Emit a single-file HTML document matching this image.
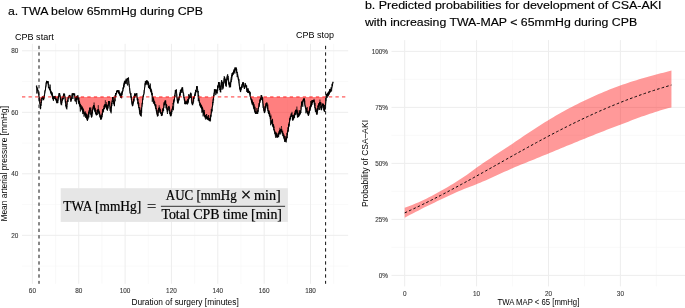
<!DOCTYPE html>
<html lang="en"><head><meta charset="utf-8"><title>TWA below 65mmHg during CPB</title>
<style>html,body{margin:0;padding:0;background:#fff}svg{display:block}.t{font-family:"Liberation Sans",Arial,Helvetica,sans-serif;fill:#000}.s{font-family:"Liberation Serif","Times New Roman",serif;fill:#000;stroke:#000;stroke-width:0.22px}.ax{font-family:"Liberation Sans",Arial,Helvetica,sans-serif;fill:#3c3c3c;font-size:6.4px;stroke:#3c3c3c;stroke-width:0.12px}.at{font-family:"Liberation Sans",Arial,Helvetica,sans-serif;fill:#000;font-size:8.3px}</style></head><body>
<svg width="685" height="308" viewBox="0 0 685 308">
<rect width="685" height="308" fill="#fff"/>
<g id="panelA">
<line x1="55.57" y1="43.8" x2="55.57" y2="283.8" stroke="#f5f5f5" stroke-width="0.6"/>
<line x1="101.92" y1="43.8" x2="101.92" y2="283.8" stroke="#f5f5f5" stroke-width="0.6"/>
<line x1="148.28" y1="43.8" x2="148.28" y2="283.8" stroke="#f5f5f5" stroke-width="0.6"/>
<line x1="194.62" y1="43.8" x2="194.62" y2="283.8" stroke="#f5f5f5" stroke-width="0.6"/>
<line x1="240.97" y1="43.8" x2="240.97" y2="283.8" stroke="#f5f5f5" stroke-width="0.6"/>
<line x1="287.32" y1="43.8" x2="287.32" y2="283.8" stroke="#f5f5f5" stroke-width="0.6"/>
<line x1="333.67" y1="43.8" x2="333.67" y2="283.8" stroke="#f5f5f5" stroke-width="0.6"/>
<line x1="22.0" y1="266.05" x2="348.2" y2="266.05" stroke="#f5f5f5" stroke-width="0.6"/>
<line x1="22.0" y1="204.55" x2="348.2" y2="204.55" stroke="#f5f5f5" stroke-width="0.6"/>
<line x1="22.0" y1="143.05" x2="348.2" y2="143.05" stroke="#f5f5f5" stroke-width="0.6"/>
<line x1="22.0" y1="81.55" x2="348.2" y2="81.55" stroke="#f5f5f5" stroke-width="0.6"/>
<line x1="32.40" y1="43.8" x2="32.40" y2="283.8" stroke="#ededed" stroke-width="1"/>
<line x1="78.75" y1="43.8" x2="78.75" y2="283.8" stroke="#ededed" stroke-width="1"/>
<line x1="125.10" y1="43.8" x2="125.10" y2="283.8" stroke="#ededed" stroke-width="1"/>
<line x1="171.45" y1="43.8" x2="171.45" y2="283.8" stroke="#ededed" stroke-width="1"/>
<line x1="217.80" y1="43.8" x2="217.80" y2="283.8" stroke="#ededed" stroke-width="1"/>
<line x1="264.15" y1="43.8" x2="264.15" y2="283.8" stroke="#ededed" stroke-width="1"/>
<line x1="310.50" y1="43.8" x2="310.50" y2="283.8" stroke="#ededed" stroke-width="1"/>
<line x1="22.0" y1="235.30" x2="348.2" y2="235.30" stroke="#ededed" stroke-width="1"/>
<line x1="22.0" y1="173.80" x2="348.2" y2="173.80" stroke="#ededed" stroke-width="1"/>
<line x1="22.0" y1="112.30" x2="348.2" y2="112.30" stroke="#ededed" stroke-width="1"/>
<line x1="22.0" y1="50.80" x2="348.2" y2="50.80" stroke="#ededed" stroke-width="1"/>
<clipPath id="below"><rect x="39.0" y="96.92" width="286.60" height="60"/></clipPath>
<path d="M36.40,85.80 L36.90,87.48 L37.40,89.16 L37.90,91.02 L38.40,93.62 L38.90,96.45 L39.40,100.23 L39.90,104.00 L40.40,108.60 L40.90,105.25 L41.40,101.90 L41.90,99.54 L42.40,97.17 L42.90,98.50 L43.40,99.92 L43.90,98.00 L44.40,96.08 L44.90,93.05 L45.40,89.73 L45.90,86.36 L46.40,82.96 L46.90,81.90 L47.40,82.40 L47.90,82.90 L48.40,84.24 L48.90,86.84 L49.40,88.91 L49.90,90.19 L50.40,91.48 L50.90,92.71 L51.40,93.78 L51.90,94.85 L52.40,96.12 L52.90,98.21 L53.40,100.30 L53.90,99.10 L54.40,97.90 L54.90,96.70 L55.40,98.30 L55.90,99.89 L56.40,101.49 L56.90,103.08 L57.40,101.93 L57.90,100.10 L58.40,98.27 L58.90,96.43 L59.40,94.44 L59.90,95.83 L60.40,99.55 L60.90,103.27 L61.40,104.61 L61.90,102.37 L62.40,100.14 L62.90,98.15 L63.40,96.53 L63.90,94.90 L64.40,94.35 L64.90,98.10 L65.40,101.85 L65.90,105.60 L66.40,107.99 L66.90,104.92 L67.40,101.86 L67.90,98.80 L68.40,97.83 L68.90,96.86 L69.40,95.89 L69.90,97.35 L70.40,99.42 L70.90,101.49 L71.40,99.95 L71.90,97.51 L72.40,95.07 L72.90,94.17 L73.40,94.29 L73.90,94.41 L74.40,94.53 L74.90,96.06 L75.40,99.71 L75.90,101.14 L76.40,99.24 L76.90,97.34 L77.40,97.04 L77.90,99.13 L78.40,101.23 L78.90,103.15 L79.40,104.39 L79.90,105.62 L80.40,106.86 L80.90,108.10 L81.40,108.69 L81.90,109.29 L82.40,109.88 L82.90,110.93 L83.40,112.10 L83.90,113.27 L84.40,113.88 L84.90,114.34 L85.40,114.81 L85.90,115.79 L86.40,117.11 L86.90,118.42 L87.40,119.74 L87.90,118.07 L88.40,115.65 L88.90,113.23 L89.40,110.82 L89.90,108.40 L90.40,111.14 L90.90,113.87 L91.40,116.61 L91.90,115.75 L92.40,112.50 L92.90,109.25 L93.40,106.00 L93.90,107.62 L94.40,109.24 L94.90,110.86 L95.40,112.48 L95.90,114.10 L96.40,115.08 L96.90,113.49 L97.40,111.91 L97.90,110.32 L98.40,111.33 L98.90,113.00 L99.40,114.67 L99.90,116.33 L100.40,118.00 L100.90,119.67 L101.40,118.40 L101.90,116.40 L102.40,114.40 L102.90,112.40 L103.40,110.40 L103.90,108.40 L104.40,106.81 L104.90,105.22 L105.40,105.75 L105.90,106.81 L106.40,107.88 L106.90,108.94 L107.40,110.00 L107.90,107.61 L108.40,105.22 L108.90,102.83 L109.40,102.88 L109.90,106.58 L110.40,110.28 L110.90,110.98 L111.40,107.18 L111.90,103.38 L112.40,99.58 L112.90,98.32 L113.40,100.88 L113.90,103.44 L114.40,106.00 L114.90,99.94 L115.40,94.92 L115.90,94.03 L116.40,93.14 L116.90,92.25 L117.40,91.36 L117.90,91.56 L118.40,92.49 L118.90,93.41 L119.40,94.34 L119.90,95.27 L120.40,96.20 L120.90,97.13 L121.40,96.33 L121.90,94.39 L122.40,92.44 L122.90,90.50 L123.40,88.59 L123.90,86.68 L124.40,84.76 L124.90,83.52 L125.40,82.71 L125.90,81.91 L126.40,81.10 L126.90,80.25 L127.40,79.39 L127.90,78.54 L128.40,80.25 L128.90,83.67 L129.40,87.08 L129.90,90.50 L130.40,93.92 L130.90,96.89 L131.40,99.74 L131.90,102.60 L132.40,105.46 L132.90,105.06 L133.40,102.51 L133.90,99.95 L134.40,97.71 L134.90,96.73 L135.40,95.76 L135.90,94.78 L136.40,94.57 L136.90,97.40 L137.40,100.23 L137.90,102.96 L138.40,105.26 L138.90,107.56 L139.40,109.86 L139.90,112.16 L140.40,114.46 L140.90,115.43 L141.40,111.06 L141.90,106.69 L142.40,102.59 L142.90,99.53 L143.40,96.46 L143.90,93.40 L144.40,89.73 L144.90,86.07 L145.40,84.14 L145.90,83.38 L146.40,82.62 L146.90,81.86 L147.40,81.10 L147.90,82.88 L148.40,84.66 L148.90,86.43 L149.40,87.91 L149.90,88.94 L150.40,89.97 L150.90,91.00 L151.40,92.64 L151.90,94.28 L152.40,95.92 L152.90,97.90 L153.40,100.40 L153.90,102.12 L154.40,103.64 L154.90,105.16 L155.40,106.68 L155.90,108.42 L156.40,111.01 L156.90,113.59 L157.40,116.18 L157.90,114.74 L158.40,112.30 L158.90,109.86 L159.40,108.26 L159.90,110.04 L160.40,111.82 L160.90,113.60 L161.40,115.39 L161.90,115.12 L162.40,113.48 L162.90,111.84 L163.40,110.20 L163.90,107.46 L164.40,104.73 L164.90,101.99 L165.40,102.29 L165.90,104.60 L166.40,106.91 L166.90,109.23 L167.40,111.54 L167.90,110.23 L168.40,108.02 L168.90,107.78 L169.40,110.49 L169.90,113.21 L170.40,115.92 L170.90,115.70 L171.40,113.53 L171.90,111.37 L172.40,109.20 L172.90,106.86 L173.40,104.24 L173.90,101.63 L174.40,99.02 L174.90,96.18 L175.40,93.28 L175.90,90.38 L176.40,93.09 L176.90,97.21 L177.40,101.33 L177.90,103.08 L178.40,101.27 L178.90,99.46 L179.40,97.65 L179.90,95.82 L180.40,93.94 L180.90,92.06 L181.40,90.18 L181.90,88.65 L182.40,88.13 L182.90,91.28 L183.40,94.39 L183.90,97.33 L184.40,100.27 L184.90,103.21 L185.40,103.64 L185.90,103.44 L186.40,103.24 L186.90,103.04 L187.40,102.84 L187.90,102.64 L188.40,101.09 L188.90,99.21 L189.40,97.33 L189.90,95.72 L190.40,94.51 L190.90,93.30 L191.40,97.66 L191.90,102.01 L192.40,105.03 L192.90,102.70 L193.40,100.37 L193.90,98.18 L194.40,96.57 L194.90,94.96 L195.40,93.34 L195.90,91.54 L196.40,89.60 L196.90,87.66 L197.40,88.07 L197.90,92.00 L198.40,95.93 L198.90,99.57 L199.40,103.02 L199.90,104.98 L200.40,105.93 L200.90,106.89 L201.40,107.85 L201.90,108.81 L202.40,110.06 L202.90,111.39 L203.40,112.72 L203.90,114.04 L204.40,115.37 L204.90,116.70 L205.40,117.10 L205.90,117.49 L206.40,117.89 L206.90,118.29 L207.40,118.68 L207.90,119.07 L208.40,119.42 L208.90,119.78 L209.40,120.13 L209.90,120.49 L210.40,119.46 L210.90,116.38 L211.40,113.29 L211.90,110.20 L212.40,106.31 L212.90,102.42 L213.40,98.53 L213.90,95.33 L214.40,93.15 L214.90,90.97 L215.40,90.58 L215.90,91.39 L216.40,92.19 L216.90,93.00 L217.40,90.08 L217.90,87.17 L218.40,84.25 L218.90,83.62 L219.40,86.41 L219.90,89.21 L220.40,92.00 L220.90,86.55 L221.40,81.09 L221.90,82.13 L222.40,84.80 L222.90,87.47 L223.40,85.07 L223.90,81.40 L224.40,77.73 L224.90,79.40 L225.40,82.40 L225.90,85.40 L226.40,82.86 L226.90,78.93 L227.40,75.00 L227.90,77.81 L228.40,80.63 L228.90,83.44 L229.40,84.74 L229.90,85.67 L230.40,86.60 L230.90,82.24 L231.40,77.87 L231.90,76.20 L232.40,75.20 L232.90,74.20 L233.40,73.38 L233.90,72.62 L234.40,71.72 L234.90,70.29 L235.40,68.87 L235.90,69.23 L236.40,70.77 L236.90,72.39 L237.40,74.35 L237.90,76.31 L238.40,79.45 L238.90,82.89 L239.40,86.34 L239.90,89.13 L240.40,90.94 L240.90,89.93 L241.40,88.22 L241.90,86.52 L242.40,84.81 L242.90,83.10 L243.40,84.87 L243.90,86.63 L244.40,88.40 L244.90,86.94 L245.40,85.48 L245.90,85.89 L246.40,87.54 L246.90,89.20 L247.40,90.85 L247.90,92.50 L248.40,92.32 L248.90,92.15 L249.40,91.97 L249.90,93.65 L250.40,96.57 L250.90,99.16 L251.40,100.47 L251.90,101.78 L252.40,103.09 L252.90,104.40 L253.40,106.29 L253.90,108.18 L254.40,110.07 L254.90,111.97 L255.40,113.10 L255.90,113.10 L256.40,113.10 L256.90,113.10 L257.40,113.10 L257.90,111.17 L258.40,108.75 L258.90,106.33 L259.40,104.02 L259.90,102.10 L260.40,100.19 L260.90,98.28 L261.40,96.37 L261.90,97.20 L262.40,99.87 L262.90,102.84 L263.40,107.01 L263.90,111.19 L264.40,112.70 L264.90,110.20 L265.40,107.70 L265.90,105.20 L266.40,103.68 L266.90,106.07 L267.40,108.46 L267.90,110.84 L268.40,112.61 L268.90,113.96 L269.40,115.30 L269.90,116.65 L270.40,118.00 L270.90,120.08 L271.40,121.63 L271.90,123.04 L272.40,124.46 L272.90,125.87 L273.40,127.39 L273.90,129.33 L274.40,131.28 L274.90,133.22 L275.40,134.38 L275.90,135.01 L276.40,135.64 L276.90,136.27 L277.40,136.90 L277.90,135.93 L278.40,134.96 L278.90,133.98 L279.40,132.99 L279.90,131.96 L280.40,130.93 L280.90,129.90 L281.40,130.87 L281.90,131.84 L282.40,132.82 L282.90,134.11 L283.40,135.90 L283.90,137.68 L284.40,139.46 L284.90,141.24 L285.40,140.80 L285.90,139.80 L286.40,138.80 L286.90,137.42 L287.40,134.53 L287.90,131.64 L288.40,128.73 L288.90,125.79 L289.40,122.86 L289.90,120.26 L290.40,118.14 L290.90,116.03 L291.40,113.92 L291.90,116.05 L292.40,119.23 L292.90,119.92 L293.40,118.94 L293.90,117.97 L294.40,117.00 L294.90,114.94 L295.40,112.88 L295.90,110.82 L296.40,111.12 L296.90,112.98 L297.40,114.84 L297.90,116.70 L298.40,116.05 L298.90,115.40 L299.40,114.74 L299.90,114.09 L300.40,112.33 L300.90,108.92 L301.40,105.50 L301.90,104.11 L302.40,102.72 L302.90,101.33 L303.40,99.93 L303.90,100.08 L304.40,102.52 L304.90,104.97 L305.40,107.41 L305.90,108.95 L306.40,110.26 L306.90,111.57 L307.40,112.88 L307.90,114.19 L308.40,115.50 L308.90,113.67 L309.40,111.83 L309.90,110.00 L310.40,108.17 L310.90,106.44 L311.40,105.16 L311.90,103.88 L312.40,102.60 L312.90,101.95 L313.40,101.29 L313.90,101.89 L314.40,104.36 L314.90,106.83 L315.40,109.30 L315.90,111.03 L316.40,112.77 L316.90,114.50 L317.40,112.00 L317.90,109.50 L318.40,107.00 L318.90,105.53 L319.40,104.07 L319.90,102.60 L320.40,105.24 L320.90,107.89 L321.40,109.60 L321.90,107.60 L322.40,105.60 L322.90,104.50 L323.40,107.00 L323.90,109.50 L324.40,111.16 L324.90,109.48 L325.40,107.80 L325.90,100.36 L326.40,94.49 L326.90,94.93 L327.40,95.37 L327.90,95.81 L328.40,95.10 L328.90,94.10 L329.40,93.10 L329.90,92.31 L330.40,91.58 L330.90,90.85 L331.40,89.29 L331.90,87.52 L332.40,85.75 L332.90,83.55 L333.15,96.92 L36.40,96.92 Z" fill="#ff0000" fill-opacity="0.5" clip-path="url(#below)"/>
<path d="M36.40,85.80 L36.85,93.51 L37.30,88.82 L38.38,93.52 L38.83,93.60 L39.28,99.33 L39.85,103.61 L40.30,104.25 L40.75,106.27 L41.06,104.18 L41.51,98.24 L41.96,99.26 L42.56,96.97 L43.01,96.75 L43.46,99.69 L44.34,96.31 L44.79,90.70 L45.24,90.79 L46.15,84.67 L46.60,80.80 L47.05,82.05 L48.01,83.01 L48.46,88.17 L48.91,86.89 L49.69,89.66 L50.14,84.62 L50.59,91.97 L51.53,94.05 L51.98,92.08 L52.43,96.24 L53.26,99.69 L53.71,96.76 L54.16,98.49 L54.78,97.00 L55.23,95.90 L55.68,99.18 L56.27,101.07 L56.72,98.66 L57.17,102.78 L57.47,101.69 L57.92,102.87 L58.37,98.39 L58.68,97.24 L59.13,93.18 L59.58,93.68 L59.72,94.52 L60.17,95.15 L60.62,101.21 L61.63,103.60 L62.08,98.75 L62.53,99.58 L62.94,98.01 L63.39,99.33 L63.84,95.08 L64.55,95.45 L65.00,96.15 L65.45,102.20 L66.41,107.93 L66.86,109.34 L67.31,102.42 L67.67,100.20 L68.12,101.83 L68.57,97.50 L69.32,96.04 L69.77,94.90 L70.22,98.69 L71.40,99.97 L71.85,95.49 L72.30,95.58 L72.42,94.97 L72.87,99.02 L73.32,94.27 L74.49,94.55 L74.94,101.18 L75.39,99.65 L76.08,100.44 L76.53,104.20 L76.98,97.02 L77.47,97.31 L77.92,95.40 L78.37,101.08 L78.68,102.39 L79.13,101.39 L79.58,104.83 L79.89,105.61 L80.34,111.50 L80.79,107.84 L81.13,108.38 L81.58,106.54 L82.03,109.44 L82.32,109.78 L82.77,114.08 L83.22,111.68 L83.60,112.56 L84.05,116.62 L84.50,113.97 L85.09,114.52 L85.54,117.81 L85.99,116.02 L86.98,118.64 L87.43,120.80 L87.88,118.16 L88.44,115.48 L88.89,117.39 L89.34,111.13 L90.14,109.71 L90.59,109.53 L91.04,114.63 L91.59,117.64 L92.04,110.28 L92.49,111.92 L93.19,107.34 L93.64,105.20 L94.09,108.25 L94.89,110.83 L95.34,109.44 L95.79,113.74 L96.81,113.79 L97.26,115.02 L97.71,110.93 L97.89,110.34 L98.34,109.20 L98.79,112.65 L99.15,113.84 L99.60,111.82 L100.05,116.84 L100.65,118.82 L101.10,115.38 L101.55,117.81 L102.06,115.75 L102.51,109.29 L102.96,112.15 L104.02,108.03 L104.47,109.16 L104.92,105.17 L105.21,105.34 L105.66,104.10 L106.11,107.25 L106.30,107.66 L106.75,104.49 L107.20,109.57 L108.05,106.87 L108.50,101.28 L108.95,102.57 L109.63,104.61 L110.08,110.70 L110.53,111.27 L110.73,112.29 L111.18,113.30 L111.63,105.45 L112.28,100.52 L112.73,102.03 L113.18,99.73 L113.94,103.65 L114.39,103.20 L114.84,100.65 L115.33,95.05 L115.78,97.03 L116.23,93.45 L116.70,92.60 L117.15,90.20 L117.60,91.00 L118.60,92.86 L119.05,90.45 L119.50,94.53 L119.88,95.23 L120.33,93.35 L120.78,96.91 L121.12,97.43 L121.57,98.30 L122.02,93.93 L122.67,91.39 L123.12,87.26 L123.57,87.93 L123.80,87.04 L124.25,81.78 L124.70,83.83 L125.75,82.15 L126.20,84.10 L126.65,80.68 L127.02,80.04 L127.47,85.47 L127.92,78.50 L128.07,78.25 L128.52,77.40 L128.97,84.13 L129.47,87.54 L129.92,93.07 L130.37,93.69 L130.57,94.98 L131.02,93.21 L131.47,100.12 L132.31,104.96 L132.76,103.01 L133.21,103.46 L134.32,97.86 L134.77,93.20 L135.22,96.11 L136.39,94.53 L136.84,93.20 L137.29,99.63 L137.42,100.32 L137.87,99.09 L138.32,104.87 L139.22,109.03 L139.67,114.32 L140.12,113.17 L140.85,115.89 L141.30,116.52 L141.75,108.03 L142.51,101.91 L142.96,95.52 L143.41,96.40 L143.66,94.88 L144.11,94.23 L144.56,88.58 L144.88,86.18 L145.33,81.15 L145.78,83.56 L146.57,82.37 L147.02,85.10 L147.47,81.33 L148.05,83.40 L148.50,87.91 L148.95,86.60 L149.86,88.87 L150.31,83.60 L150.76,90.72 L151.84,94.08 L152.29,101.76 L152.74,97.10 L152.98,98.31 L153.43,103.53 L153.88,102.06 L154.90,105.15 L155.35,104.25 L155.80,107.89 L156.69,112.52 L157.14,110.38 L157.59,116.25 L157.92,114.62 L158.37,109.39 L158.82,110.22 L159.27,108.04 L159.72,112.50 L160.17,111.01 L160.92,113.68 L161.37,112.22 L161.82,115.38 L162.27,113.91 L162.72,108.46 L163.17,110.96 L163.46,109.89 L163.91,102.47 L164.36,104.96 L165.52,102.85 L165.97,108.36 L166.42,107.01 L166.99,109.65 L167.44,114.01 L167.89,110.27 L169.07,108.71 L169.52,107.22 L169.97,113.59 L170.14,114.51 L170.59,111.81 L171.04,115.09 L171.56,112.84 L172.01,108.59 L172.46,108.94 L172.99,106.38 L173.44,110.23 L173.89,101.68 L174.77,96.93 L175.22,90.36 L175.67,91.71 L175.96,90.06 L176.41,89.47 L176.86,96.85 L177.60,103.00 L178.05,99.17 L178.50,100.89 L178.74,100.05 L179.19,96.11 L179.64,96.79 L179.90,95.84 L180.35,90.30 L180.80,92.45 L181.58,89.57 L182.03,92.70 L182.48,88.63 L183.16,92.94 L183.61,93.09 L184.06,98.29 L185.24,103.70 L185.69,100.82 L186.14,103.34 L186.78,103.09 L187.23,104.60 L187.68,102.73 L188.11,102.20 L188.56,94.30 L189.01,98.81 L189.98,95.53 L190.43,97.99 L190.88,93.36 L191.14,95.43 L191.59,103.42 L192.04,103.27 L192.88,102.80 L193.33,103.09 L193.78,98.60 L194.95,94.81 L195.40,95.75 L195.85,91.75 L196.03,91.02 L196.48,91.62 L196.93,87.54 L197.82,91.40 L198.27,101.14 L198.72,98.36 L199.39,102.93 L199.84,102.15 L200.29,105.72 L201.48,108.00 L201.93,112.73 L202.38,110.01 L202.70,110.85 L203.15,116.37 L203.60,113.24 L203.77,113.71 L204.22,109.96 L204.67,116.10 L205.01,116.79 L205.46,119.45 L205.91,117.50 L206.17,117.71 L206.62,114.04 L207.07,118.42 L208.06,119.18 L208.51,115.03 L208.96,119.82 L209.69,120.34 L210.14,121.50 L210.59,118.30 L210.84,116.73 L211.29,109.20 L211.74,111.17 L212.48,105.65 L212.93,105.50 L213.38,98.65 L213.94,95.15 L214.39,89.30 L214.84,91.23 L215.30,90.42 L215.75,95.12 L216.20,91.87 L217.21,91.16 L217.66,91.11 L218.11,85.91 L219.09,84.68 L219.54,84.75 L219.99,89.71 L220.73,88.38 L221.18,89.67 L221.63,80.70 L222.20,83.75 L222.65,89.48 L223.10,87.25 L223.78,82.30 L224.23,76.20 L224.68,78.06 L225.80,84.81 L226.25,86.80 L226.70,80.48 L227.09,77.40 L227.54,79.48 L227.99,78.35 L228.88,83.35 L229.33,87.40 L229.78,85.46 L230.03,85.90 L230.48,82.61 L230.93,82.02 L231.25,79.17 L231.70,79.91 L232.15,75.70 L233.10,73.85 L233.55,70.79 L234.00,72.47 L234.50,71.42 L234.95,67.50 L235.40,68.86 L235.68,68.54 L236.13,67.50 L236.58,71.32 L236.72,71.75 L237.17,77.09 L237.62,75.21 L238.57,80.65 L239.02,79.41 L239.47,86.84 L240.19,90.18 L240.64,92.10 L241.09,89.28 L241.68,87.26 L242.13,88.01 L242.58,84.18 L242.98,83.37 L243.43,82.30 L243.88,86.55 L244.83,87.14 L245.28,82.97 L245.73,85.34 L246.30,87.22 L246.75,91.96 L247.20,90.20 L247.75,92.00 L248.20,88.44 L248.65,92.24 L249.55,91.92 L250.00,96.76 L250.45,96.88 L251.59,100.97 L252.04,104.39 L252.49,103.33 L253.45,106.47 L253.90,104.08 L254.35,109.88 L255.25,113.10 L255.70,113.90 L256.15,113.10 L257.31,113.10 L257.76,113.90 L258.21,109.65 L259.33,104.28 L259.78,100.11 L260.23,100.84 L260.91,98.22 L261.36,99.88 L261.81,96.74 L262.61,101.01 L263.06,107.96 L263.51,107.97 L264.65,111.43 L265.10,112.20 L265.55,106.93 L266.31,103.27 L266.76,102.40 L267.21,107.57 L267.48,108.85 L267.93,108.79 L268.38,112.56 L268.81,113.72 L269.26,112.60 L269.71,116.15 L270.20,117.46 L270.65,125.24 L271.10,120.78 L271.93,123.13 L272.38,119.20 L272.83,125.67 L273.06,126.32 L273.51,124.11 L273.96,129.56 L275.14,134.05 L275.59,137.70 L276.04,135.19 L276.41,135.66 L276.86,137.70 L277.31,136.79 L278.17,135.39 L278.62,137.19 L279.07,133.64 L280.25,131.25 L280.70,134.38 L281.15,130.38 L282.33,132.67 L282.78,136.13 L283.23,135.28 L284.15,138.56 L284.60,135.86 L285.05,141.51 L285.75,140.11 L286.20,142.40 L286.65,138.31 L286.80,137.99 L287.25,132.43 L287.70,132.78 L288.67,127.13 L289.12,122.09 L289.57,121.85 L289.80,120.68 L290.25,116.38 L290.70,116.88 L291.75,115.10 L292.20,115.06 L292.65,120.40 L293.49,118.77 L293.94,115.05 L294.39,117.02 L295.31,113.25 L295.76,114.57 L296.21,110.41 L296.99,113.32 L297.44,117.50 L297.89,116.67 L298.98,115.29 L299.43,110.30 L299.88,114.11 L300.54,111.38 L300.99,112.88 L301.44,105.39 L302.34,102.88 L302.79,106.79 L303.24,100.37 L303.94,100.26 L304.39,98.62 L304.84,104.66 L305.46,107.72 L305.91,113.26 L306.36,110.16 L307.40,112.87 L307.85,110.92 L308.30,115.23 L309.37,111.94 L309.82,106.38 L310.27,108.64 L310.41,108.12 L310.86,100.98 L311.31,105.39 L311.53,104.82 L311.98,100.10 L312.43,102.56 L313.37,101.34 L313.82,100.10 L314.27,103.70 L314.94,107.03 L315.39,111.76 L315.84,110.83 L316.42,112.83 L316.87,109.70 L317.32,112.40 L317.65,110.77 L318.10,105.54 L318.55,106.57 L319.09,104.97 L319.54,109.85 L319.99,103.09 L320.29,104.66 L320.74,101.99 L321.19,109.42 L321.55,108.98 L322.00,103.36 L322.45,105.38 L322.78,104.10 L323.23,103.78 L323.68,108.38 L323.99,109.94 L324.44,104.95 L324.89,109.53 L325.58,105.10 L326.03,100.98 L326.48,94.56 L326.58,94.65 L327.03,97.99 L327.48,95.45 L327.61,95.56 L328.06,92.73 L328.51,94.87 L329.15,93.61 L329.60,88.97 L330.05,92.10 L331.10,90.35 L331.55,91.47 L332.00,87.17 L332.24,86.30 L332.69,82.14 L333.14,82.42" fill="none" stroke="#000" stroke-width="0.75" stroke-linejoin="miter" stroke-miterlimit="10"/>
<path d="M39.50,100.98 l0.35,-2.17 l0.35,2.17 M40.43,108.39 l0.35,-1.75 l0.35,1.75 M43.32,100.21 l0.35,-2.79 l0.35,2.79 M57.02,103.34 l0.35,-1.76 l0.35,1.76 M60.45,99.93 l0.35,-2.51 l0.35,2.51 M61.18,105.39 l0.35,-4.32 l0.35,4.32 M66.50,107.37 l0.35,-1.69 l0.35,1.69 M78.66,102.30 l0.35,-4.56 l0.35,4.56 M80.20,106.38 l0.35,-2.00 l0.35,2.00 M81.05,108.28 l0.35,-3.04 l0.35,3.04 M82.16,109.59 l0.35,-3.02 l0.35,3.02 M83.35,111.98 l0.35,-2.20 l0.35,2.20 M84.07,113.57 l0.35,-1.70 l0.35,1.70 M85.23,114.65 l0.35,-3.32 l0.35,3.32 M86.36,116.99 l0.35,-3.41 l0.35,3.41 M87.60,119.54 l0.35,-4.47 l0.35,4.47 M88.95,112.99 l0.35,-2.04 l0.35,2.04 M89.79,108.93 l0.35,-1.60 l0.35,1.60 M90.53,111.84 l0.35,-4.28 l0.35,4.28 M92.10,114.42 l0.35,-3.45 l0.35,3.45 M92.91,109.16 l0.35,-3.01 l0.35,3.01 M93.74,107.11 l0.35,-4.58 l0.35,4.58 M95.10,111.50 l0.35,-3.44 l0.35,3.44 M96.41,115.06 l0.35,-2.26 l0.35,2.26 M97.95,110.15 l0.35,-5.00 l0.35,5.00 M98.90,112.99 l0.35,-2.31 l0.35,2.31 M100.33,117.76 l0.35,-3.10 l0.35,3.10 M101.44,118.24 l0.35,-2.34 l0.35,2.34 M103.11,111.57 l0.35,-1.95 l0.35,1.95 M104.02,108.02 l0.35,-3.12 l0.35,3.12 M105.00,104.91 l0.35,-4.69 l0.35,4.69 M106.02,107.07 l0.35,-5.00 l0.35,5.00 M107.10,109.37 l0.35,-4.53 l0.35,4.53 M108.55,104.49 l0.35,-3.34 l0.35,3.34 M109.47,103.37 l0.35,-1.75 l0.35,1.75 M110.20,108.78 l0.35,-1.78 l0.35,1.78 M111.56,105.93 l0.35,-1.59 l0.35,1.59 M113.77,102.77 l0.35,-1.74 l0.35,1.74 M114.80,101.18 l0.35,-1.86 l0.35,1.86 M132.30,104.88 l0.35,-2.92 l0.35,2.92 M133.51,101.93 l0.35,-2.97 l0.35,2.97 M137.30,99.67 l0.35,-1.60 l0.35,1.60 M138.51,105.77 l0.35,-2.77 l0.35,2.77 M139.56,110.61 l0.35,-3.10 l0.35,3.10 M141.18,112.94 l0.35,-4.81 l0.35,4.81 M142.19,104.14 l0.35,-1.73 l0.35,1.73 M154.32,103.38 l0.35,-1.88 l0.35,1.88 M155.52,107.04 l0.35,-2.76 l0.35,2.76 M156.45,111.26 l0.35,-1.78 l0.35,1.78 M157.62,116.10 l0.35,-1.60 l0.35,1.60 M158.82,110.26 l0.35,-5.00 l0.35,5.00 M160.34,111.62 l0.35,-1.58 l0.35,1.58 M161.87,115.21 l0.35,-3.26 l0.35,3.26 M163.28,110.60 l0.35,-1.54 l0.35,1.54 M164.74,102.88 l0.35,-1.80 l0.35,1.80 M166.24,106.18 l0.35,-2.04 l0.35,2.04 M167.31,111.11 l0.35,-1.76 l0.35,1.76 M168.88,107.65 l0.35,-1.85 l0.35,1.85 M170.45,116.18 l0.35,-2.51 l0.35,2.51 M171.30,113.98 l0.35,-2.99 l0.35,2.99 M172.53,108.65 l0.35,-1.54 l0.35,1.54 M174.05,100.84 l0.35,-1.94 l0.35,1.94 M177.67,103.54 l0.35,-2.18 l0.35,2.18 M178.55,100.71 l0.35,-2.55 l0.35,2.55 M185.11,103.76 l0.35,-1.79 l0.35,1.79 M185.99,103.40 l0.35,-2.43 l0.35,2.43 M187.44,102.82 l0.35,-3.77 l0.35,3.77 M192.36,105.24 l0.35,-2.19 l0.35,2.19 M193.12,101.66 l0.35,-4.03 l0.35,4.03 M200.21,105.57 l0.35,-1.62 l0.35,1.62 M201.28,107.62 l0.35,-2.10 l0.35,2.10 M202.85,111.25 l0.35,-1.77 l0.35,1.77 M203.71,113.53 l0.35,-1.63 l0.35,1.63 M205.25,116.98 l0.35,-2.03 l0.35,2.03 M206.85,118.25 l0.35,-2.03 l0.35,2.03 M208.39,119.42 l0.35,-1.80 l0.35,1.80 M209.99,120.55 l0.35,-5.00 l0.35,5.00 M211.57,112.25 l0.35,-3.15 l0.35,3.15 M213.16,100.36 l0.35,-2.94 l0.35,2.94 M251.95,101.90 l0.35,-2.23 l0.35,2.23 M253.19,105.50 l0.35,-3.46 l0.35,3.46 M253.90,108.20 l0.35,-2.96 l0.35,2.96 M254.84,111.73 l0.35,-5.00 l0.35,5.00 M255.95,113.10 l0.35,-5.00 l0.35,5.00 M257.10,113.10 l0.35,-2.99 l0.35,2.99 M257.84,111.46 l0.35,-1.82 l0.35,1.82 M258.84,106.64 l0.35,-2.15 l0.35,2.15 M259.71,102.83 l0.35,-2.27 l0.35,2.27 M260.50,99.82 l0.35,-2.39 l0.35,2.39 M263.72,109.67 l0.35,-2.86 l0.35,2.86 M265.40,107.70 l0.35,-3.33 l0.35,3.33 M266.73,105.27 l0.35,-2.36 l0.35,2.36 M267.52,109.01 l0.35,-4.63 l0.35,4.63 M269.11,114.53 l0.35,-3.79 l0.35,3.79 M270.50,118.42 l0.35,-3.84 l0.35,3.84 M272.16,123.78 l0.35,-5.00 l0.35,5.00 M273.63,128.28 l0.35,-1.52 l0.35,1.52 M275.28,134.22 l0.35,-2.67 l0.35,2.67 M276.43,135.68 l0.35,-2.29 l0.35,2.29 M277.40,136.90 l0.35,-1.55 l0.35,1.55 M278.72,134.34 l0.35,-2.85 l0.35,2.85 M279.50,132.77 l0.35,-5.00 l0.35,5.00 M281.11,130.30 l0.35,-4.30 l0.35,4.30 M282.34,132.71 l0.35,-2.18 l0.35,2.18 M283.52,136.31 l0.35,-2.15 l0.35,2.15 M285.17,141.26 l0.35,-5.00 l0.35,5.00 M286.77,138.06 l0.35,-2.53 l0.35,2.53 M287.98,131.17 l0.35,-3.13 l0.35,3.13 M288.97,125.38 l0.35,-1.78 l0.35,1.78 M290.65,117.07 l0.35,-1.94 l0.35,1.94 M291.62,114.29 l0.35,-2.45 l0.35,2.45 M292.41,119.31 l0.35,-2.54 l0.35,2.54 M293.27,119.19 l0.35,-3.97 l0.35,3.97 M294.06,117.67 l0.35,-3.77 l0.35,3.77 M295.02,114.43 l0.35,-3.67 l0.35,3.67 M296.52,111.58 l0.35,-5.00 l0.35,5.00 M297.40,114.84 l0.35,-5.00 l0.35,5.00 M298.25,116.25 l0.35,-2.11 l0.35,2.11 M298.95,115.32 l0.35,-2.45 l0.35,2.45 M299.74,114.30 l0.35,-2.64 l0.35,2.64 M301.37,105.71 l0.35,-3.63 l0.35,3.63 M302.72,101.83 l0.35,-1.63 l0.35,1.63 M304.40,102.54 l0.35,-2.14 l0.35,2.14 M306.05,109.35 l0.35,-1.72 l0.35,1.72 M307.05,111.97 l0.35,-5.00 l0.35,5.00 M308.50,115.14 l0.35,-1.79 l0.35,1.79 M309.66,110.89 l0.35,-2.59 l0.35,2.59 M310.61,107.40 l0.35,-1.85 l0.35,1.85 M311.39,105.18 l0.35,-2.50 l0.35,2.50 M312.51,102.46 l0.35,-2.10 l0.35,2.10 M313.69,100.92 l0.35,-2.10 l0.35,2.10 M314.77,106.21 l0.35,-3.52 l0.35,3.52 M315.62,110.07 l0.35,-1.64 l0.35,1.64 M316.77,114.05 l0.35,-1.98 l0.35,1.98 M317.94,109.28 l0.35,-4.25 l0.35,4.25 M319.59,103.51 l0.35,-3.88 l0.35,3.88 M321.21,109.53 l0.35,-1.87 l0.35,1.87 M322.26,106.17 l0.35,-1.67 l0.35,1.67 M323.25,106.24 l0.35,-1.92 l0.35,1.92 M324.19,110.94 l0.35,-2.07 l0.35,2.07 M214.00,94.89 L214.35,92.36 L214.70,91.84 M214.76,91.57 L215.11,89.60 L215.46,90.69 M215.56,90.84 L215.91,89.00 L216.26,91.97 M216.31,92.05 L216.66,93.65 L217.01,92.35 M217.03,92.26 L217.38,93.50 L217.73,88.18 M218.00,86.57 L218.35,88.10 L218.70,82.51 M218.63,82.93 L218.98,82.00 L219.33,86.00 M219.61,87.57 L219.96,85.27 L220.31,91.48 M220.55,90.32 L220.90,92.40 L221.25,82.69 M221.27,82.50 L221.62,85.68 L221.97,82.51 M222.22,83.83 L222.57,81.96 L222.92,87.57 M223.03,87.75 L223.38,88.50 L223.73,82.62 M223.95,81.02 L224.30,83.32 L224.65,77.91 M224.69,78.12 L225.04,80.70 L225.39,82.32 M225.40,82.39 L225.75,79.01 L226.10,85.23 M226.12,85.06 L226.47,82.67 L226.82,79.56 M226.74,80.20 L227.09,77.73 L227.44,75.22 M227.28,75.91 L227.63,77.71 L227.98,78.28 M228.12,79.04 L228.47,75.94 L228.82,82.98 M228.93,83.60 L229.28,85.16 L229.63,85.17 M229.66,85.23 L230.01,87.10 L230.36,86.53 M230.35,86.50 L230.70,87.10 L231.05,80.96 M231.13,80.22 L231.48,81.77 L231.83,76.34 M231.83,76.34 L232.18,73.22 L232.53,74.94 M232.56,74.88 L232.91,73.37 L233.26,73.60 M233.42,73.35 L233.77,70.57 L234.12,72.27 M234.17,72.20 L234.52,69.91 L234.87,70.38 M234.72,70.80 L235.07,73.55 L235.42,68.81" fill="none" stroke="#000" stroke-width="0.6" stroke-opacity="0.8" stroke-linejoin="miter" stroke-miterlimit="10"/>
<path d="M36.40,86.09 L36.65,85.68 L36.90,88.06 L37.15,87.54 L37.40,89.64 L37.65,88.52 L37.90,91.07 L38.15,90.50 L38.40,93.65 L38.65,93.28 L38.90,96.52 L39.15,97.52 L39.40,100.61 L39.65,99.53 L39.90,104.11 L40.15,105.16 L40.40,109.16 L40.65,104.05 L40.90,105.77 L41.15,102.02 L41.40,102.78 L41.65,100.01 L41.90,100.31 L42.15,97.06 L42.40,97.30 L42.65,96.57 L42.90,98.78 L43.15,97.07 L43.40,100.08 L43.65,96.96 L43.90,98.58 L44.15,95.55 L44.40,96.58 L44.65,93.95 L44.90,93.10 L45.15,90.29 L45.40,90.34 L45.65,86.43 L45.90,86.64 L46.15,82.65 L46.40,83.37 L46.65,81.05 L46.90,82.61 L47.15,81.05 L47.40,82.62 L47.65,81.05 L47.90,83.37 L48.15,81.30 L48.40,84.90 L48.65,84.25 L48.90,87.72 L49.15,87.26 L49.40,89.29 L49.65,87.14 L49.90,90.33 L50.15,89.06 L50.40,91.51 L50.65,89.91 L50.90,93.40 L51.15,91.27 L51.40,94.57 L51.65,92.96 L51.90,95.47 L52.15,93.35 L52.40,96.64 L52.65,95.47 L52.90,98.97 L53.15,96.39 L53.40,100.73 L53.65,97.51 L53.90,99.15 L54.15,96.22 L54.40,98.48 L54.65,96.10 L54.90,97.44 L55.15,96.21 L55.40,98.64 L55.65,96.89 L55.90,99.91 L56.15,98.98 L56.40,101.64 L56.65,101.40 L56.90,103.13 L57.15,100.41 L57.40,102.05 L57.65,99.82 L57.90,100.45 L58.15,96.49 L58.40,98.34 L58.65,95.67 L58.90,96.93 L59.15,93.37 L59.40,95.18 L59.65,93.37 L59.90,96.08 L60.15,96.09 L60.40,99.87 L60.65,98.69 L60.90,104.13 L61.15,104.17 L61.40,104.77 L61.65,102.33 L61.90,102.58 L62.15,99.49 L62.40,100.67 L62.65,97.79 L62.90,98.15 L63.15,95.73 L63.40,96.86 L63.65,93.75 L63.90,95.76 L64.15,93.49 L64.40,94.81 L64.65,94.14 L64.90,98.71 L65.15,99.25 L65.40,102.66 L65.65,101.25 L65.90,106.39 L66.15,104.96 L66.40,108.34 L66.65,104.90 L66.90,105.02 L67.15,101.27 L67.40,101.92 L67.65,99.57 L67.90,98.99 L68.15,97.33 L68.40,98.14 L68.65,96.62 L68.90,96.86 L69.15,95.42 L69.40,95.99 L69.65,95.29 L69.90,97.38 L70.15,95.69 L70.40,99.97 L70.65,99.50 L70.90,101.71 L71.15,99.74 L71.40,100.28 L71.65,97.84 L71.90,98.28 L72.15,93.51 L72.40,95.49 L72.65,93.51 L72.90,94.25 L73.15,93.51 L73.40,94.60 L73.65,93.51 L73.90,95.16 L74.15,93.57 L74.40,94.55 L74.65,93.69 L74.90,96.54 L75.15,96.93 L75.40,100.20 L75.65,100.87 L75.90,101.62 L76.15,97.24 L76.40,100.02 L76.65,96.02 L76.90,97.58 L77.15,95.79 L77.40,97.19 L77.65,95.79 L77.90,99.61 L78.15,97.71 L78.40,101.52 L78.65,101.14 L78.90,103.88 L79.15,100.80 L79.40,105.15 L79.65,102.47 L79.90,106.36 L80.15,103.87 L80.40,107.07 L80.65,105.64 L80.90,108.42 L81.15,107.73 L81.40,108.72 L81.65,107.72 L81.90,109.52 L82.15,107.50 L82.40,110.74 L82.65,108.68 L82.90,111.78 L83.15,108.69 L83.40,112.96 L83.65,111.21 L83.90,113.47 L84.15,112.50 L84.40,114.05 L84.65,113.02 L84.90,114.91 L85.15,112.67 L85.40,115.57 L85.65,113.38 L85.90,116.38 L86.15,113.93 L86.40,117.18 L86.65,115.58 L86.90,119.24 L87.15,116.60 L87.40,120.34 L87.65,117.53 L87.90,118.23 L88.15,114.36 L88.40,115.95 L88.65,111.92 L88.90,114.11 L89.15,110.47 L89.40,111.18 L89.65,107.80 L89.90,109.05 L90.15,108.76 L90.40,111.25 L90.65,111.54 L90.90,114.68 L91.15,112.70 L91.40,116.74 L91.65,114.79 L91.90,116.63 L92.15,111.95 L92.40,112.82 L92.65,108.96 L92.90,109.37 L93.15,106.99 L93.40,106.87 L93.65,105.40 L93.90,108.09 L94.15,105.59 L94.40,109.63 L94.65,107.36 L94.90,111.61 L95.15,110.57 L95.40,112.71 L95.65,111.99 L95.90,114.32 L96.15,112.91 L96.40,115.32 L96.65,112.68 L96.90,113.61 L97.15,109.92 L97.40,112.22 L97.65,109.72 L97.90,110.84 L98.15,109.72 L98.40,111.71 L98.65,109.72 L98.90,113.45 L99.15,111.96 L99.40,115.14 L99.65,114.86 L99.90,116.73 L100.15,116.13 L100.40,118.00 L100.65,116.32 L100.90,119.82 L101.15,117.66 L101.40,119.05 L101.65,115.46 L101.90,116.69 L102.15,113.56 L102.40,114.90 L102.65,110.92 L102.90,112.50 L103.15,109.46 L103.40,110.62 L103.65,108.14 L103.90,109.10 L104.15,105.79 L104.40,107.31 L104.65,104.62 L104.90,106.04 L105.15,104.62 L105.40,106.30 L105.65,104.62 L105.90,107.27 L106.15,105.08 L106.40,108.28 L106.65,106.53 L106.90,109.37 L107.15,106.61 L107.40,110.60 L107.65,106.10 L107.90,108.46 L108.15,105.19 L108.40,105.73 L108.65,101.16 L108.90,103.59 L109.15,101.04 L109.40,102.99 L109.65,103.07 L109.90,106.65 L110.15,107.25 L110.40,110.35 L110.65,109.92 L110.90,111.69 L111.15,106.33 L111.40,107.32 L111.65,102.96 L111.90,103.97 L112.15,100.54 L112.40,100.37 L112.65,97.08 L112.90,98.52 L113.15,97.08 L113.40,101.24 L113.65,100.39 L113.90,104.33 L114.15,102.12 L114.40,106.15 L114.65,101.34 L114.90,100.41 L115.15,95.50 L115.40,95.10 L115.65,93.11 L115.90,94.68 L116.15,92.94 L116.40,93.64 L116.65,91.04 L116.90,92.26 L117.15,90.49 L117.40,91.92 L117.65,90.49 L117.90,91.62 L118.15,90.49 L118.40,93.20 L118.65,90.49 L118.90,93.51 L119.15,92.64 L119.40,94.38 L119.65,92.34 L119.90,95.51 L120.15,94.82 L120.40,96.58 L120.65,93.88 L120.90,97.87 L121.15,96.08 L121.40,96.47 L121.65,92.56 L121.90,94.90 L122.15,91.14 L122.40,92.52 L122.65,90.73 L122.90,91.12 L123.15,87.92 L123.40,88.65 L123.65,84.78 L123.90,87.25 L124.15,83.20 L124.40,84.84 L124.65,81.31 L124.90,83.58 L125.15,80.50 L125.40,83.12 L125.65,80.89 L125.90,82.40 L126.15,78.79 L126.40,81.34 L126.65,79.76 L126.90,80.72 L127.15,78.65 L127.40,79.49 L127.65,77.98 L127.90,78.59 L128.15,77.94 L128.40,80.53 L128.65,80.63 L128.90,84.35 L129.15,84.08 L129.40,87.53 L129.65,87.76 L129.90,90.81 L130.15,91.56 L130.40,94.14 L130.65,94.82 L130.90,97.55 L131.15,96.39 L131.40,99.91 L131.65,99.43 L131.90,103.44 L132.15,103.17 L132.40,106.19 L132.65,104.71 L132.90,105.51 L133.15,101.18 L133.40,102.86 L133.65,99.41 L133.90,100.57 L134.15,95.71 L134.40,98.01 L134.65,94.62 L134.90,97.37 L135.15,94.12 L135.40,96.12 L135.65,93.83 L135.90,94.83 L136.15,93.69 L136.40,94.63 L136.65,93.69 L136.90,97.63 L137.15,97.82 L137.40,100.31 L137.65,99.03 L137.90,103.74 L138.15,101.90 L138.40,105.51 L138.65,105.23 L138.90,107.82 L139.15,107.01 L139.40,110.00 L139.65,109.34 L139.90,112.40 L140.15,110.40 L140.40,115.34 L140.65,113.70 L140.90,115.65 L141.15,110.33 L141.40,111.34 L141.65,107.42 L141.90,106.69 L142.15,102.99 L142.40,103.01 L142.65,99.25 L142.90,99.71 L143.15,96.18 L143.40,96.47 L143.65,93.70 L143.90,93.48 L144.15,90.01 L144.40,89.77 L144.65,87.25 L144.90,86.34 L145.15,83.37 L145.40,84.67 L145.65,81.89 L145.90,84.06 L146.15,80.82 L146.40,83.27 L146.65,80.50 L146.90,82.21 L147.15,80.50 L147.40,81.99 L147.65,81.03 L147.90,83.53 L148.15,81.62 L148.40,84.69 L148.65,82.94 L148.90,87.24 L149.15,85.22 L149.40,88.57 L149.65,85.88 L149.90,89.07 L150.15,87.60 L150.40,90.42 L150.65,87.88 L150.90,91.72 L151.15,89.24 L151.40,93.16 L151.65,90.72 L151.90,94.89 L152.15,92.83 L152.40,96.12 L152.65,96.06 L152.90,98.02 L153.15,97.68 L153.40,100.49 L153.65,98.75 L153.90,102.62 L154.15,100.77 L154.40,104.20 L154.65,102.17 L154.90,105.60 L155.15,105.31 L155.40,107.40 L155.65,105.05 L155.90,108.87 L156.15,107.83 L156.40,111.60 L156.65,111.54 L156.90,114.26 L157.15,113.68 L157.40,116.25 L157.65,114.73 L157.90,115.40 L158.15,112.43 L158.40,112.97 L158.65,108.14 L158.90,110.30 L159.15,107.66 L159.40,108.69 L159.65,107.66 L159.90,110.73 L160.15,108.85 L160.40,112.40 L160.65,111.93 L160.90,113.74 L161.15,113.29 L161.40,116.06 L161.65,114.61 L161.90,115.63 L162.15,113.67 L162.40,113.53 L162.65,111.41 L162.90,112.44 L163.15,108.76 L163.40,110.81 L163.65,107.53 L163.90,107.93 L164.15,104.38 L164.40,105.15 L164.65,102.48 L164.90,102.80 L165.15,100.53 L165.40,103.17 L165.65,100.60 L165.90,104.62 L166.15,104.05 L166.40,107.65 L166.65,105.15 L166.90,109.63 L167.15,109.14 L167.40,111.73 L167.65,108.47 L167.90,110.42 L168.15,107.13 L168.40,108.15 L168.65,106.32 L168.90,108.64 L169.15,108.22 L169.40,111.23 L169.65,110.03 L169.90,114.00 L170.15,112.27 L170.40,116.12 L170.65,114.03 L170.90,116.14 L171.15,113.96 L171.40,113.54 L171.65,110.67 L171.90,111.77 L172.15,108.96 L172.40,109.33 L172.65,106.69 L172.90,107.14 L173.15,102.93 L173.40,104.25 L173.65,100.54 L173.90,102.39 L174.15,99.44 L174.40,99.86 L174.65,95.32 L174.90,96.99 L175.15,93.43 L175.40,93.61 L175.65,90.29 L175.90,91.28 L176.15,89.78 L176.40,93.42 L176.65,93.53 L176.90,97.46 L177.15,98.55 L177.40,101.42 L177.65,100.79 L177.90,103.33 L178.15,99.33 L178.40,101.49 L178.65,99.12 L178.90,99.92 L179.15,97.50 L179.40,97.98 L179.65,93.85 L179.90,96.62 L180.15,92.33 L180.40,94.51 L180.65,90.21 L180.90,92.91 L181.15,89.20 L181.40,90.82 L181.65,88.65 L181.90,89.31 L182.15,87.33 L182.40,88.81 L182.65,87.56 L182.90,91.54 L183.15,92.14 L183.40,95.22 L183.65,94.95 L183.90,97.75 L184.15,97.38 L184.40,100.54 L184.65,99.37 L184.90,104.09 L185.15,102.52 L185.40,104.23 L185.65,102.22 L185.90,103.94 L186.15,102.24 L186.40,103.39 L186.65,102.15 L186.90,103.23 L187.15,100.49 L187.40,103.29 L187.65,101.61 L187.90,103.46 L188.15,99.04 L188.40,101.50 L188.65,99.22 L188.90,99.38 L189.15,97.45 L189.40,97.64 L189.65,95.57 L189.90,95.93 L190.15,93.89 L190.40,95.02 L190.65,92.70 L190.90,93.97 L191.15,93.89 L191.40,98.03 L191.65,97.98 L191.90,102.35 L192.15,102.78 L192.40,105.09 L192.65,102.60 L192.90,103.57 L193.15,100.63 L193.40,100.82 L193.65,97.09 L193.90,98.95 L194.15,96.25 L194.40,96.81 L194.65,94.56 L194.90,95.32 L195.15,92.48 L195.40,94.20 L195.65,89.87 L195.90,92.32 L196.15,89.92 L196.40,89.63 L196.65,86.33 L196.90,88.47 L197.15,86.09 L197.40,88.60 L197.65,89.44 L197.90,92.35 L198.15,91.14 L198.40,96.67 L198.65,95.19 L198.90,100.45 L199.15,100.10 L199.40,103.12 L199.65,103.53 L199.90,105.45 L200.15,103.22 L200.40,106.78 L200.65,104.08 L200.90,107.47 L201.15,104.94 L201.40,108.26 L201.65,106.41 L201.90,108.84 L202.15,106.92 L202.40,110.27 L202.65,107.92 L202.90,111.97 L203.15,110.72 L203.40,112.83 L203.65,112.18 L203.90,114.62 L204.15,112.43 L204.40,115.47 L204.65,115.27 L204.90,117.17 L205.15,114.90 L205.40,117.45 L205.65,116.16 L205.90,118.03 L206.15,117.07 L206.40,118.16 L206.65,116.50 L206.90,119.15 L207.15,116.89 L207.40,119.48 L207.65,117.29 L207.90,119.28 L208.15,118.05 L208.40,120.29 L208.65,118.08 L208.90,120.06 L209.15,119.30 L209.40,120.58 L209.65,118.09 L209.90,120.87 L210.15,119.45 L210.40,120.07 L210.65,115.10 L210.90,116.58 L211.15,114.15 L211.40,113.59 L211.65,110.13 L211.90,110.81 L212.15,107.18 L212.40,107.03 L212.65,101.99 L212.90,102.88 L213.15,99.39 L213.40,99.41 L213.65,95.24 L213.90,96.07 L214.15,93.09 L214.40,93.35 L214.65,89.64 L214.90,91.24 L215.15,89.58 L215.40,91.03 L215.65,89.94 L215.90,91.59 L216.15,90.19 L216.40,92.79 L216.65,89.72 L216.90,93.13 L217.15,90.00 L217.40,90.27 L217.65,85.69 L217.90,87.29 L218.15,84.98 L218.40,84.30 L218.65,82.19 L218.90,84.43 L219.15,82.29 L219.40,87.07 L219.65,84.81 L219.90,90.04 L220.15,89.21 L220.40,92.17 L220.65,86.43 L220.90,87.22 L221.15,83.14 L221.40,81.69 L221.65,80.20 L221.90,82.47 L222.15,82.07 L222.40,84.95 L222.65,85.53 L222.90,87.72 L223.15,85.46 L223.40,85.93 L223.65,82.34 L223.90,82.27 L224.15,78.47 L224.40,78.05 L224.65,77.13 L224.90,80.14 L225.15,79.26 L225.40,82.44 L225.65,82.16 L225.90,85.74 L226.15,82.01 L226.40,83.03 L226.65,79.42 L226.90,79.74 L227.15,76.29 L227.40,75.37 L227.65,74.40 L227.90,78.50 L228.15,78.52 L228.40,80.66 L228.65,81.28 L228.90,84.27 L229.15,83.06 L229.40,85.42 L229.65,82.45 L229.90,85.98 L230.15,84.88 L230.40,87.20 L230.65,82.34 L230.90,82.47 L231.15,77.73 L231.40,78.16 L231.65,75.44 L231.90,76.20 L232.15,73.29 L232.40,76.02 L232.65,72.58 L232.90,75.05 L233.15,73.11 L233.40,73.60 L233.65,71.26 L233.90,73.48 L234.15,69.34 L234.40,72.06 L234.65,69.80 L234.90,70.68 L235.15,67.85 L235.40,69.70 L235.65,67.85 L235.90,69.95 L236.15,67.85 L236.40,71.51 L236.65,69.08 L236.90,72.94 L237.15,71.98 L237.40,74.64 L237.65,73.86 L237.90,77.01 L238.15,76.94 L238.40,79.63 L238.65,78.77 L238.90,83.12 L239.15,83.86 L239.40,86.37 L239.65,86.13 L239.90,89.42 L240.15,87.08 L240.40,91.54 L240.65,87.82 L240.90,90.17 L241.15,88.28 L241.40,88.31 L241.65,85.57 L241.90,87.16 L242.15,83.99 L242.40,85.02 L242.65,82.50 L242.90,83.66 L243.15,82.50 L243.40,85.54 L243.65,83.12 L243.90,87.23 L244.15,86.63 L244.40,89.00 L244.65,86.37 L244.90,87.45 L245.15,84.72 L245.40,86.15 L245.65,84.47 L245.90,86.11 L246.15,85.53 L246.40,87.68 L246.65,85.65 L246.90,89.72 L247.15,88.64 L247.40,91.20 L247.65,88.69 L247.90,92.96 L248.15,91.26 L248.40,93.05 L248.65,90.25 L248.90,93.04 L249.15,91.37 L249.40,92.40 L249.65,91.37 L249.90,94.41 L250.15,92.31 L250.40,96.60 L250.65,96.72 L250.90,99.27 L251.15,98.76 L251.40,101.35 L251.65,99.13 L251.90,102.62 L252.15,100.94 L252.40,103.87 L252.65,102.07 L252.90,104.63 L253.15,102.88 L253.40,107.14 L253.65,106.38 L253.90,108.72 L254.15,107.04 L254.40,110.27 L254.65,109.53 L254.90,112.09 L255.15,111.82 L255.40,113.33 L255.65,111.06 L255.90,113.69 L256.15,112.01 L256.40,113.11 L256.65,111.71 L256.90,113.70 L257.15,112.06 L257.40,113.38 L257.65,111.29 L257.90,111.88 L258.15,108.04 L258.40,108.81 L258.65,106.70 L258.90,106.69 L259.15,103.20 L259.40,104.59 L259.65,102.24 L259.90,102.25 L260.15,98.88 L260.40,100.56 L260.65,97.95 L260.90,98.56 L261.15,95.27 L261.40,96.65 L261.65,95.27 L261.90,97.52 L262.15,96.93 L262.40,100.64 L262.65,98.21 L262.90,103.16 L263.15,103.85 L263.40,107.67 L263.65,108.01 L263.90,111.20 L264.15,110.52 L264.40,113.08 L264.65,108.88 L264.90,110.57 L265.15,106.23 L265.40,108.11 L265.65,105.46 L265.90,105.21 L266.15,103.08 L266.40,104.25 L266.65,103.08 L266.90,106.15 L267.15,105.17 L267.40,108.79 L267.65,107.84 L267.90,110.98 L268.15,110.65 L268.40,113.08 L268.65,110.46 L268.90,114.05 L269.15,112.85 L269.40,116.03 L269.65,113.06 L269.90,116.83 L270.15,116.42 L270.40,118.85 L270.65,116.10 L270.90,120.52 L271.15,120.20 L271.40,122.46 L271.65,120.81 L271.90,123.86 L272.15,121.66 L272.40,125.20 L272.65,124.18 L272.90,126.58 L273.15,125.44 L273.40,127.75 L273.65,125.73 L273.90,130.08 L274.15,129.27 L274.40,131.47 L274.65,130.69 L274.90,133.69 L275.15,132.54 L275.40,134.49 L275.65,133.50 L275.90,135.66 L276.15,132.62 L276.40,135.68 L276.65,134.00 L276.90,136.95 L277.15,135.89 L277.40,137.50 L277.65,135.53 L277.90,136.47 L278.15,133.52 L278.40,135.52 L278.65,133.13 L278.90,134.36 L279.15,131.50 L279.40,133.37 L279.65,130.29 L279.90,132.36 L280.15,129.79 L280.40,130.95 L280.65,129.30 L280.90,130.34 L281.15,129.30 L281.40,131.56 L281.65,129.30 L281.90,132.26 L282.15,131.30 L282.40,133.24 L282.65,132.45 L282.90,134.23 L283.15,133.37 L283.40,135.98 L283.65,135.13 L283.90,138.14 L284.15,137.87 L284.40,140.03 L284.65,139.55 L284.90,141.90 L285.15,138.83 L285.40,141.26 L285.65,139.57 L285.90,140.25 L286.15,137.79 L286.40,139.66 L286.65,137.37 L286.90,138.19 L287.15,132.98 L287.40,135.19 L287.65,130.53 L287.90,131.81 L288.15,127.23 L288.40,129.17 L288.65,124.36 L288.90,126.62 L289.15,123.33 L289.40,123.57 L289.65,118.56 L289.90,120.31 L290.15,117.76 L290.40,118.83 L290.65,116.11 L290.90,116.84 L291.15,113.72 L291.40,114.66 L291.65,113.51 L291.90,116.50 L292.15,114.83 L292.40,119.41 L292.65,119.17 L292.90,120.37 L293.15,118.06 L293.40,118.98 L293.65,117.42 L293.90,118.12 L294.15,114.64 L294.40,117.61 L294.65,113.22 L294.90,115.09 L295.15,111.43 L295.40,112.99 L295.65,109.98 L295.90,111.40 L296.15,109.59 L296.40,111.90 L296.65,110.11 L296.90,113.50 L297.15,111.19 L297.40,114.93 L297.65,112.79 L297.90,117.27 L298.15,114.83 L298.40,116.77 L298.65,114.49 L298.90,116.29 L299.15,113.08 L299.40,115.07 L299.65,111.98 L299.90,114.49 L300.15,112.74 L300.40,113.00 L300.65,109.91 L300.90,109.65 L301.15,106.00 L301.40,106.08 L301.65,101.84 L301.90,104.64 L302.15,101.22 L302.40,103.00 L302.65,101.42 L302.90,101.36 L303.15,99.67 L303.40,100.49 L303.65,98.64 L303.90,100.54 L304.15,98.64 L304.40,102.64 L304.65,102.60 L304.90,105.55 L305.15,105.54 L305.40,107.41 L305.65,106.84 L305.90,109.04 L306.15,108.15 L306.40,110.46 L306.65,108.91 L306.90,112.10 L307.15,111.13 L307.40,113.44 L307.65,111.79 L307.90,114.31 L308.15,112.00 L308.40,115.72 L308.65,113.62 L308.90,113.75 L309.15,110.62 L309.40,112.62 L309.65,108.44 L309.90,110.36 L310.15,107.85 L310.40,108.18 L310.65,105.10 L310.90,106.95 L311.15,104.36 L311.40,105.74 L311.65,102.86 L311.90,104.72 L312.15,100.88 L312.40,102.82 L312.65,100.37 L312.90,101.99 L313.15,100.37 L313.40,101.66 L313.65,100.37 L313.90,101.94 L314.15,100.65 L314.40,104.37 L314.65,103.67 L314.90,107.68 L315.15,107.12 L315.40,109.48 L315.65,108.11 L315.90,111.49 L316.15,109.76 L316.40,113.50 L316.65,112.61 L316.90,114.78 L317.15,111.93 L317.40,112.04 L317.65,108.02 L317.90,110.20 L318.15,105.93 L318.40,107.01 L318.65,103.64 L318.90,106.20 L319.15,103.08 L319.40,104.73 L319.65,102.00 L319.90,102.80 L320.15,103.07 L320.40,105.45 L320.65,105.87 L320.90,108.19 L321.15,106.81 L321.40,110.20 L321.65,105.97 L321.90,108.24 L322.15,105.36 L322.40,106.10 L322.65,103.90 L322.90,105.21 L323.15,103.90 L323.40,107.24 L323.65,106.11 L323.90,110.37 L324.15,109.63 L324.40,111.76 L324.65,109.69 L324.90,109.72 L325.15,107.47 L325.40,108.47 L325.65,101.21 L325.90,101.03 L326.15,95.25 L326.40,95.28 L326.65,93.89 L326.90,95.14 L327.15,93.89 L327.40,95.94 L327.65,93.50 L327.90,96.41 L328.15,92.65 L328.40,95.52 L328.65,91.98 L328.90,94.73 L329.15,90.98 L329.40,93.49 L329.65,90.34 L329.90,92.83 L330.15,90.61 L330.40,91.77 L330.65,89.12 L330.90,90.92 L331.15,87.38 L331.40,89.42 L331.65,87.74 L331.90,87.62 L332.15,83.81 L332.40,86.06 L332.65,83.77 L332.90,83.58 L333.15,81.79" fill="none" stroke="#000" stroke-width="0.95" stroke-linejoin="round"/>
<line x1="22.0" y1="96.92" x2="348.2" y2="96.92" stroke="#ff0000" stroke-opacity="0.8" stroke-width="1" stroke-dasharray="3.35 3.18"/>
<line x1="39.0" y1="45.8" x2="39.0" y2="283.8" stroke="#111" stroke-width="1" stroke-dasharray="3.35 3.18"/>
<line x1="325.6" y1="45.8" x2="325.6" y2="283.8" stroke="#111" stroke-width="1" stroke-dasharray="3.35 3.18"/>
<text class="t" x="14.9" y="40.2" font-size="9.3" textLength="38.9" lengthAdjust="spacingAndGlyphs">CPB start</text>
<text class="t" x="296" y="38.4" font-size="9.3" textLength="38" lengthAdjust="spacingAndGlyphs">CPB stop</text>
<text class="ax" x="18.3" y="237.90" text-anchor="end">20</text>
<text class="ax" x="18.3" y="176.40" text-anchor="end">40</text>
<text class="ax" x="18.3" y="114.90" text-anchor="end">60</text>
<text class="ax" x="18.3" y="53.40" text-anchor="end">80</text>
<text class="ax" x="32.40" y="292.7" text-anchor="middle">60</text>
<text class="ax" x="78.75" y="292.7" text-anchor="middle">80</text>
<text class="ax" x="125.10" y="292.7" text-anchor="middle">100</text>
<text class="ax" x="171.45" y="292.7" text-anchor="middle">120</text>
<text class="ax" x="217.80" y="292.7" text-anchor="middle">140</text>
<text class="ax" x="264.15" y="292.7" text-anchor="middle">160</text>
<text class="ax" x="310.50" y="292.7" text-anchor="middle">180</text>
<text class="at" x="185.1" y="305" text-anchor="middle" textLength="107.4" lengthAdjust="spacingAndGlyphs">Duration of surgery [minutes]</text>
<text class="at" transform="translate(6.7,163.8) rotate(-90)" text-anchor="middle" textLength="115.5" lengthAdjust="spacingAndGlyphs">Mean arterial pressure [mmHg]</text>
<rect x="60.7" y="188.2" width="227.2" height="33.7" fill="#e6e6e6"/>
<text class="s" x="63.3" y="210.7" font-size="13.8" textLength="77.9" lengthAdjust="spacingAndGlyphs">TWA [mmHg]</text>
<text class="s" x="146.9" y="210.6" font-size="14.5" textLength="9.3" lengthAdjust="spacingAndGlyphs">=</text>
<text class="s" y="199.7" font-size="13.8"><tspan x="165.8" textLength="70.9" lengthAdjust="spacingAndGlyphs">AUC [mmHg</tspan><tspan x="236.0" dy="1.1" font-size="18.5"> ×</tspan><tspan x="250.4" dy="-1.1" textLength="30.3" lengthAdjust="spacingAndGlyphs"> min]</tspan></text>
<line x1="160.9" y1="206.3" x2="285.1" y2="206.3" stroke="#000" stroke-width="0.8"/>
<text class="s" x="161.4" y="218.8" font-size="13.8" textLength="120.6" lengthAdjust="spacingAndGlyphs">Total CPB time [min]</text>
<text class="t" x="8" y="14.6" font-size="11.8" stroke="#000" stroke-width="0.15" textLength="195" lengthAdjust="spacingAndGlyphs">a. TWA below 65mmHg during CPB</text>
</g>
<g id="panelB">
<line x1="440.65" y1="40.1" x2="440.65" y2="286.4" stroke="#f5f5f5" stroke-width="0.6"/>
<line x1="512.55" y1="40.1" x2="512.55" y2="286.4" stroke="#f5f5f5" stroke-width="0.6"/>
<line x1="584.45" y1="40.1" x2="584.45" y2="286.4" stroke="#f5f5f5" stroke-width="0.6"/>
<line x1="656.35" y1="40.1" x2="656.35" y2="286.4" stroke="#f5f5f5" stroke-width="0.6"/>
<line x1="391.5" y1="247.40" x2="685" y2="247.40" stroke="#f5f5f5" stroke-width="0.6"/>
<line x1="391.5" y1="191.40" x2="685" y2="191.40" stroke="#f5f5f5" stroke-width="0.6"/>
<line x1="391.5" y1="135.40" x2="685" y2="135.40" stroke="#f5f5f5" stroke-width="0.6"/>
<line x1="391.5" y1="79.40" x2="685" y2="79.40" stroke="#f5f5f5" stroke-width="0.6"/>
<line x1="404.70" y1="40.1" x2="404.70" y2="286.4" stroke="#ededed" stroke-width="1"/>
<line x1="476.60" y1="40.1" x2="476.60" y2="286.4" stroke="#ededed" stroke-width="1"/>
<line x1="548.50" y1="40.1" x2="548.50" y2="286.4" stroke="#ededed" stroke-width="1"/>
<line x1="620.40" y1="40.1" x2="620.40" y2="286.4" stroke="#ededed" stroke-width="1"/>
<line x1="391.5" y1="275.40" x2="685" y2="275.40" stroke="#ededed" stroke-width="1"/>
<line x1="391.5" y1="219.40" x2="685" y2="219.40" stroke="#ededed" stroke-width="1"/>
<line x1="391.5" y1="163.40" x2="685" y2="163.40" stroke="#ededed" stroke-width="1"/>
<line x1="391.5" y1="107.40" x2="685" y2="107.40" stroke="#ededed" stroke-width="1"/>
<line x1="391.5" y1="51.40" x2="685" y2="51.40" stroke="#ededed" stroke-width="1"/>
<polygon points="404.70,207.86 407.39,206.84 410.09,205.78 412.78,204.70 415.48,203.57 418.17,202.42 420.87,201.26 423.56,200.04 426.26,198.73 428.95,197.35 431.64,195.94 434.34,194.51 437.03,193.05 439.73,191.58 442.42,190.08 445.12,188.54 447.81,186.96 450.51,185.35 453.20,183.71 455.89,182.04 458.59,180.32 461.28,178.55 463.98,176.73 466.67,174.88 469.37,172.94 472.06,170.95 474.76,168.97 477.45,167.06 480.14,165.19 482.84,163.35 485.53,161.52 488.23,159.71 490.92,157.91 493.62,156.12 496.31,154.34 499.01,152.57 501.70,150.79 504.39,149.01 507.09,147.23 509.78,145.44 512.48,143.64 515.17,141.83 517.87,140.01 520.56,138.19 523.26,136.37 525.95,134.56 528.64,132.75 531.34,130.96 534.03,129.18 536.73,127.42 539.42,125.68 542.12,123.97 544.81,122.29 547.51,120.64 550.20,119.01 552.89,117.42 555.59,115.85 558.28,114.30 560.98,112.78 563.67,111.28 566.37,109.81 569.06,108.37 571.75,106.94 574.45,105.55 577.14,104.17 579.84,102.82 582.53,101.50 585.23,100.20 587.92,98.92 590.62,97.67 593.31,96.44 596.00,95.24 598.70,94.06 601.39,92.91 604.09,91.78 606.78,90.68 609.48,89.60 612.17,88.55 614.87,87.52 617.56,86.51 620.25,85.53 622.95,84.57 625.64,83.65 628.34,82.74 631.03,81.87 633.73,81.01 636.42,80.18 639.12,79.36 641.81,78.56 644.50,77.78 647.20,77.01 649.89,76.25 652.59,75.51 655.28,74.78 657.98,74.05 660.67,73.34 663.37,72.63 666.06,71.93 668.75,71.25 671.45,70.58 671.45,107.41 668.75,108.12 666.06,108.84 663.37,109.58 660.67,110.35 657.98,111.16 655.28,112.00 652.59,112.88 649.89,113.78 647.20,114.70 644.50,115.65 641.81,116.61 639.12,117.59 636.42,118.59 633.73,119.59 631.03,120.61 628.34,121.63 625.64,122.65 622.95,123.67 620.25,124.69 617.56,125.71 614.87,126.74 612.17,127.77 609.48,128.81 606.78,129.85 604.09,130.90 601.39,131.95 598.70,133.01 596.00,134.08 593.31,135.15 590.62,136.22 587.92,137.30 585.23,138.38 582.53,139.47 579.84,140.57 577.14,141.67 574.45,142.77 571.75,143.88 569.06,144.99 566.37,146.11 563.67,147.22 560.98,148.34 558.28,149.46 555.59,150.58 552.89,151.69 550.20,152.81 547.51,153.92 544.81,155.03 542.12,156.12 539.42,157.21 536.73,158.30 534.03,159.38 531.34,160.46 528.64,161.55 525.95,162.64 523.26,163.74 520.56,164.85 517.87,165.98 515.17,167.12 512.48,168.27 509.78,169.45 507.09,170.65 504.39,171.86 501.70,173.08 499.01,174.31 496.31,175.54 493.62,176.77 490.92,177.99 488.23,179.20 485.53,180.40 482.84,181.58 480.14,182.73 477.45,183.86 474.76,184.94 472.06,185.95 469.37,186.94 466.67,187.97 463.98,189.07 461.28,190.19 458.59,191.34 455.89,192.53 453.20,193.75 450.51,194.99 447.81,196.23 445.12,197.48 442.42,198.75 439.73,200.05 437.03,201.34 434.34,202.63 431.64,203.91 428.95,205.20 426.26,206.49 423.56,207.83 420.87,209.23 418.17,210.65 415.48,212.05 412.78,213.45 410.09,214.86 407.39,216.27 404.70,217.68" fill="#ff0000" fill-opacity="0.4"/>
<path d="M404.70,212.88 L407.70,211.52 L410.69,210.13 L413.69,208.73 L416.69,207.31 L419.69,205.87 L422.68,204.42 L425.68,202.95 L428.68,201.47 L431.67,199.97 L434.67,198.45 L437.67,196.92 L440.67,195.38 L443.66,193.82 L446.66,192.25 L449.66,190.67 L452.65,189.08 L455.65,187.47 L458.65,185.86 L461.65,184.23 L464.64,182.60 L467.64,180.96 L470.64,179.31 L473.64,177.65 L476.63,175.98 L479.63,174.32 L482.63,172.64 L485.62,170.96 L488.62,169.28 L491.62,167.60 L494.62,165.91 L497.61,164.22 L500.61,162.54 L503.61,160.85 L506.60,159.16 L509.60,157.48 L512.60,155.80 L515.60,154.12 L518.59,152.44 L521.59,150.78 L524.59,149.11 L527.58,147.45 L530.58,145.81 L533.58,144.16 L536.58,142.53 L539.57,140.90 L542.57,139.29 L545.57,137.69 L548.56,136.09 L551.56,134.51 L554.56,132.94 L557.56,131.39 L560.55,129.84 L563.55,128.31 L566.55,126.80 L569.54,125.30 L572.54,123.81 L575.54,122.34 L578.54,120.89 L581.53,119.46 L584.53,118.04 L587.53,116.63 L590.53,115.25 L593.52,113.88 L596.52,112.53 L599.52,111.20 L602.51,109.89 L605.51,108.60 L608.51,107.32 L611.51,106.07 L614.50,104.83 L617.50,103.62 L620.50,102.42 L623.49,101.24 L626.49,100.08 L629.49,98.94 L632.49,97.83 L635.48,96.73 L638.48,95.65 L641.48,94.59 L644.47,93.55 L647.47,92.52 L650.47,91.52 L653.47,90.54 L656.46,89.57 L659.46,88.63 L662.46,87.70 L665.45,86.80 L668.45,85.91 L671.45,85.04" fill="none" stroke="#000" stroke-width="0.95" stroke-dasharray="2.6 2.17"/>
<text class="ax" x="388" y="277.90" text-anchor="end">0%</text>
<text class="ax" x="388" y="221.90" text-anchor="end">25%</text>
<text class="ax" x="388" y="165.90" text-anchor="end">50%</text>
<text class="ax" x="388" y="109.90" text-anchor="end">75%</text>
<text class="ax" x="388" y="53.90" text-anchor="end">100%</text>
<text class="ax" x="404.70" y="295.8" text-anchor="middle">0</text>
<text class="ax" x="476.60" y="295.8" text-anchor="middle">10</text>
<text class="ax" x="548.50" y="295.8" text-anchor="middle">20</text>
<text class="ax" x="620.40" y="295.8" text-anchor="middle">30</text>
<text class="at" x="538.4" y="305.1" text-anchor="middle" textLength="81.8" lengthAdjust="spacingAndGlyphs">TWA MAP &lt; 65 [mmHg]</text>
<text class="at" transform="translate(368.4,163.5) rotate(-90)" text-anchor="middle" textLength="87" lengthAdjust="spacingAndGlyphs">Probability of CSA–AKI</text>
<text class="t" x="364.9" y="9.2" font-size="11.7" stroke="#000" stroke-width="0.15" textLength="296.7" lengthAdjust="spacingAndGlyphs">b. Predicted probabilities for development of CSA-AKI</text>
<text class="t" x="364.9" y="26.2" font-size="11.7" stroke="#000" stroke-width="0.15" textLength="272.2" lengthAdjust="spacingAndGlyphs">with increasing TWA-MAP &lt; 65mmHg during CPB</text>
</g>
</svg></body></html>
